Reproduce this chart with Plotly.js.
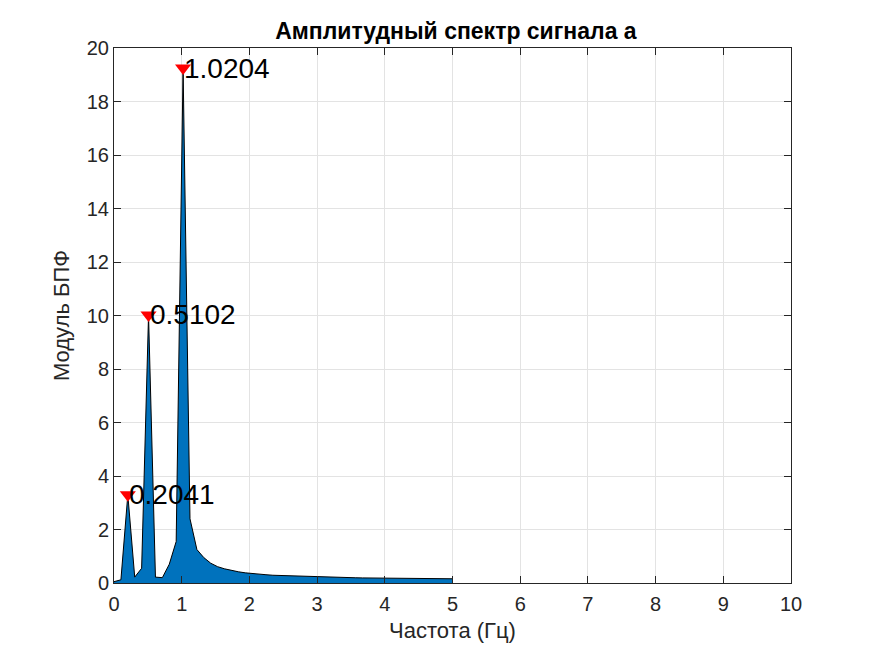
<!DOCTYPE html>
<html>
<head>
<meta charset="utf-8">
<script src="https://cdn.plot.ly/plotly-3.0.1.min.js"></script>
<style>html,body{margin:0;padding:0;background:#fff;}#chart{width:874px;height:655px;}</style>
</head>
<body>
<div id="chart"></div>
<script>
var freq = [0, 0.1020, 0.2041, 0.3061, 0.4082, 0.5102, 0.6122, 0.7143, 0.8163, 0.9184,
  1.0204, 1.1224, 1.2245, 1.3265, 1.4286, 1.5306, 1.6327, 1.7347, 1.8367, 1.9388,
  2.0408, 2.1429, 2.2449, 2.3469, 2.4490, 2.5510, 2.6531, 2.7551, 2.8571, 2.9592,
  3.0612, 3.1633, 3.2653, 3.3673, 3.4694, 3.5714, 3.6735, 3.7755, 3.8776, 3.9796,
  4.0816, 4.1837, 4.2857, 4.3878, 4.4898, 4.5918, 4.6939, 4.7959, 4.8980, 5.0000];
var amplitude = [0.05, 0.12, 3.3, 0.22, 0.55, 10.02, 0.22, 0.2, 0.7, 1.55,
  19.25, 2.4, 1.25, 0.95, 0.74, 0.61, 0.53, 0.47, 0.42, 0.38,
  0.35, 0.33, 0.31, 0.29, 0.28, 0.27, 0.26, 0.25, 0.24, 0.23,
  0.225, 0.22, 0.21, 0.205, 0.2, 0.195, 0.19, 0.187, 0.183, 0.18,
  0.177, 0.174, 0.172, 0.17, 0.168, 0.166, 0.164, 0.162, 0.16, 0.158];
var peakFreq = [0.2041, 0.5102, 1.0204];
var peakAmp = [3.3, 10.02, 19.25];
var peakLabels = ['0.2041', '0.5102', '1.0204'];
var xTicks = [0, 1, 2, 3, 4, 5, 6, 7, 8, 9, 10];
var yTicks = [0, 2, 4, 6, 8, 10, 12, 14, 16, 18, 20];
var titleText = 'Амплитудный спектр сигнала a';
var xLabel = 'Частота (Гц)';
var yLabel = 'Модуль БПФ';

var FONT = 'Liberation Sans, Arial, sans-serif';
var traces = [
  {
    x: freq, y: amplitude, type: 'scatter', mode: 'lines',
    fill: 'tozeroy', fillcolor: '#0072BD',
    line: {color: '#000000', width: 1}, hoverinfo: 'x+y', showlegend: false
  },
  {
    x: peakFreq, y: peakAmp, type: 'scatter', mode: 'markers',
    marker: {symbol: 'triangle-down', color: '#FF0000', size: 14, line: {width: 0}},
    showlegend: false, cliponaxis: false
  }
];
var annotations = peakFreq.map(function (f, i) {
  return {x: f, y: peakAmp[i], xref: 'x', yref: 'y', text: peakLabels[i],
    showarrow: false, xanchor: 'left', yanchor: 'middle', xshift: -1,
    font: {family: FONT, size: 28, color: '#000000'}};
});
var axisCommon = {
  showline: true, linecolor: '#262626', linewidth: 1, mirror: 'ticks',
  ticks: 'inside', ticklen: 7, tickcolor: '#262626', tickwidth: 1,
  showgrid: true, gridcolor: '#e3e3e3', gridwidth: 1, zeroline: false,
  tickfont: {family: FONT, size: 20, color: '#262626'}
};
var layout = {
  width: 874, height: 655,
  paper_bgcolor: '#ffffff', plot_bgcolor: '#ffffff',
  margin: {l: 114, r: 83, t: 48, b: 72},
  title: {text: titleText, font: {family: FONT, size: 23, color: '#000000', weight: 'bold'},
    x: 0.505, xanchor: 'center', xref: 'paper', y: 1 - 31 / 655, yref: 'container', yanchor: 'middle'},
  xaxis: Object.assign({}, axisCommon, {
    range: [0, 10], tickvals: xTicks, ticklabelstandoff: 3,
    title: {text: xLabel, font: {family: FONT, size: 22, color: '#262626'}, standoff: 8}
  }),
  yaxis: Object.assign({}, axisCommon, {
    range: [0, 20], tickvals: yTicks, ticklabelstandoff: 0,
    title: {text: yLabel, font: {family: FONT, size: 22, color: '#262626'}, standoff: 11}
  }),
  annotations: annotations,
  showlegend: false
};
Plotly.newPlot('chart', traces, layout, {displayModeBar: false, staticPlot: true});
</script>
</body>
</html>
